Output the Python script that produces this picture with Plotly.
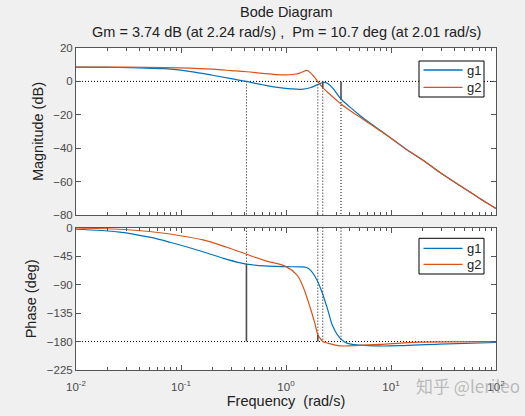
import plotly.graph_objects as go

# ---------------- data ----------------
mag_w_g1 = [0.01, 0.02, 0.04, 0.07, 0.12, 0.2, 0.3, 0.42, 0.6, 0.8, 1.1, 1.4, 1.7,
            2.0, 2.3, 2.5, 2.8, 3.34, 4.1, 5.1, 6.5, 8, 10, 15, 20, 30, 50, 70, 100]
mag_g1 = [8.5, 8.4, 8.1, 7.6, 6.0, 3.7, 1.7, 0.0, -2.0, -3.4, -4.4, -4.7, -3.8,
          -1.9, -0.6, -1.2, -4.2, -10.5, -15.5, -20.5, -25.5, -29.5, -34, -42, -47, -55, -64, -70, -76]

mag_w_g2 = [0.01, 0.03, 0.07, 0.12, 0.2, 0.3, 0.42, 0.6, 0.8, 1.0, 1.2, 1.35, 1.45, 1.57,
            1.65, 1.8, 2.01, 2.24, 2.6, 3.0, 3.34, 4.1, 5.1, 6.5, 8, 10, 15, 20, 30, 50, 70, 100]
mag_g2 = [8.5, 8.5, 8.3, 8.0, 7.3, 6.5, 5.8, 4.8, 4.1, 3.9, 4.3, 5.0, 5.8, 6.6,
          6.0, 3.8, 0.0, -3.74, -7.5, -11, -13.5, -17.5, -21.5, -26, -29.8, -34, -42, -47, -55, -64, -70, -76]

ph_w_g1 = [0.01, 0.026, 0.05, 0.0786, 0.162, 0.273, 0.42, 0.63, 1.0, 1.36, 1.57, 1.70, 1.97,
           2.22, 2.5, 2.79, 3.27, 3.81, 5.08, 7.9, 12.2, 28.9, 100]
ph_g1 = [-2.5, -7, -15, -23, -38, -50, -57.5, -60.5, -61.6, -62, -63, -66.8, -82.6,
         -103.6, -130, -156, -174.6, -182.5, -185.7, -187, -186.5, -184, -181.5]

ph_w_g2 = [0.01, 0.026, 0.05, 0.0786, 0.162, 0.273, 0.42, 0.63, 1.0, 1.27, 1.45, 1.69, 1.88,
           2.01, 2.12, 2.24, 2.5, 3.27, 5.08, 7.9, 18.5, 100]
ph_g2 = [-0.5, -2.5, -6, -10, -19.4, -31, -42, -52, -61.6, -74.7, -93, -125, -151,
         -169.3, -175, -180, -182.5, -186.8, -186, -184.5, -181, -180]

# stability margins (frequency rad/s, magnitude dB, phase deg)
pm_w = [0.42, 2.01]          # gain crossover frequencies (g1, g2)
pm_ph = [-57.5, -169.3]      # phase at gain crossover
gm_w = [3.34, 2.24]          # phase crossover frequencies (g1, g2)
gm_mag = [-10.5, -3.74]      # magnitude at phase crossover

tick_w = [0.01, 0.1, 1, 10, 100]
tick_w_text = ["10<sup>-2</sup>", "10<sup>-1</sup>", "10<sup>0</sup>", "10<sup>1</sup>", "10<sup>2</sup>"]
minor_w = [m * d for d in [0.01, 0.1, 1, 10] for m in range(2, 10)]
mag_ticks = [-80, -60, -40, -20, 0, 20]
ph_ticks = [-225, -180, -135, -90, -45, 0]

series_names = ["g1", "g2"]
title1 = "Bode Diagram"
title2 = "Gm = 3.74 dB (at 2.24 rad/s) ,  Pm = 10.7 deg (at 2.01 rad/s)"
watermark = "知乎 @lerileo"

BLUE = "#0072BD"
ORANGE = "#D95319"
COLORS = [BLUE, ORANGE]
MARG = "#4d4d4d"
FONT = "Liberation Sans, Arial, sans-serif"
TXT = "#222222"

fig = go.Figure()

# reference dotted lines
dot = dict(color="black", width=1, dash="1px,2px")
fig.add_trace(go.Scatter(x=[0.01, 100], y=[0, 0], mode="lines", line=dot,
                         showlegend=False, hoverinfo="skip", xaxis="x", yaxis="y"))
fig.add_trace(go.Scatter(x=[0.01, 100], y=[-180, -180], mode="lines", line=dot,
                         showlegend=False, hoverinfo="skip", xaxis="x2", yaxis="y2"))
for w, p in zip(pm_w, pm_ph):
    fig.add_trace(go.Scatter(x=[w, w], y=[0, -80], mode="lines", line=dot,
                             showlegend=False, hoverinfo="skip", xaxis="x", yaxis="y"))
    fig.add_trace(go.Scatter(x=[w, w], y=[0, p], mode="lines", line=dot,
                             showlegend=False, hoverinfo="skip", xaxis="x2", yaxis="y2"))
for w, m in zip(gm_w, gm_mag):
    fig.add_trace(go.Scatter(x=[w, w], y=[m, -80], mode="lines", line=dot,
                             showlegend=False, hoverinfo="skip", xaxis="x", yaxis="y"))
    fig.add_trace(go.Scatter(x=[w, w], y=[0, -180], mode="lines", line=dot,
                             showlegend=False, hoverinfo="skip", xaxis="x2", yaxis="y2"))

# curves
lw = 1.2
fig.add_trace(go.Scatter(x=mag_w_g1, y=mag_g1, mode="lines", name="g1", showlegend=False,
                         line=dict(color=BLUE, width=lw, shape="spline"), xaxis="x", yaxis="y"))
fig.add_trace(go.Scatter(x=mag_w_g2, y=mag_g2, mode="lines", name="g2", showlegend=False,
                         line=dict(color=ORANGE, width=lw, shape="spline"), xaxis="x", yaxis="y"))
fig.add_trace(go.Scatter(x=ph_w_g1, y=ph_g1, mode="lines", name="g1", showlegend=False,
                         line=dict(color=BLUE, width=lw, shape="spline"), xaxis="x2", yaxis="y2"))
fig.add_trace(go.Scatter(x=ph_w_g2, y=ph_g2, mode="lines", name="g2", showlegend=False,
                         line=dict(color=ORANGE, width=lw, shape="spline"), xaxis="x2", yaxis="y2"))

# solid margin markers
for w, m in zip(gm_w, gm_mag):
    fig.add_trace(go.Scatter(x=[w, w], y=[0, m], mode="lines", line=dict(color=MARG, width=1.6),
                             showlegend=False, hoverinfo="skip", xaxis="x", yaxis="y"))
for w, p in zip(pm_w, pm_ph):
    fig.add_trace(go.Scatter(x=[w, w], y=[-180, p], mode="lines", line=dict(color=MARG, width=1.6),
                             showlegend=False, hoverinfo="skip", xaxis="x2", yaxis="y2"))

axcol = "#555555"
tickfont = dict(family=FONT, size=11.5, color="#4a4a4a")
xcommon = dict(type="log", range=[-2, 2], showgrid=False, zeroline=False,
               showline=True, linecolor=axcol, linewidth=1, mirror="ticks",
               ticks="inside", ticklen=5, tickcolor=axcol,
               tickmode="array", tickvals=tick_w,
               minor=dict(tickmode="array", tickvals=minor_w, ticks="inside", ticklen=3,
                          tickcolor=axcol, showgrid=False),
               tickfont=tickfont)
ycommon = dict(showgrid=False, zeroline=False, showline=True, linecolor=axcol, linewidth=1,
               mirror="ticks", ticks="inside", ticklen=5, tickcolor=axcol, tickfont=tickfont)

W, H, L, R, T, B = 525, 416, 76, 29, 48, 46
pw, ph = W - L - R, H - T - B
def px(xp):
    return (xp - L) / pw
def py(yp):
    return (H - B - yp) / ph

a1x, a1y = px(286), py(12)
a2x, a2y = px(286), py(32)

annotations = [
    dict(text=title1, x=a1x, y=a1y, xref="paper", yref="paper", showarrow=False,
         xanchor="center", yanchor="middle", font=dict(family=FONT, size=14.5, color=TXT)),
    dict(text=title2, x=a2x, y=a2y, xref="paper", yref="paper", showarrow=False,
         xanchor="center", yanchor="middle", font=dict(family=FONT, size=14.5, color=TXT)),
    dict(text=watermark, x=px(414), y=py(385), xref="paper", yref="paper", showarrow=False,
         xanchor="left", yanchor="middle",
         font=dict(family="Noto Sans CJK SC", size=17, color="rgba(160,160,160,0.7)")),
]
shapes = []

# legend boxes (drawn by hand to match the compact MATLAB legend)
legend_boxes = [(419, 484, 61, 97, [70, 87.3]), (419, 484, 238.3, 274, [248.3, 264.3])]
for x0, x1, y0, y1, rows in legend_boxes:
    shapes.append(dict(type="rect", xref="paper", yref="paper", x0=px(x0), x1=px(x1), y0=py(y1), y1=py(y0),
                       line=dict(color="black", width=1), fillcolor="white", layer="above"))
    for name, col, yr in zip(series_names, COLORS, rows):
        shapes.append(dict(type="line", xref="paper", yref="paper", x0=px(423.5), x1=px(462.5),
                           y0=py(yr), y1=py(yr), line=dict(color=col, width=1.3), layer="above"))
        annotations.append(dict(text=name, x=px(465), y=py(yr), xref="paper", yref="paper",
                                showarrow=False, xanchor="left", yanchor="middle",
                                font=dict(family=FONT, size=13, color=TXT)))

fig.update_layout(
    width=W, height=H,
    margin=dict(l=L, r=R, t=T, b=B),
    paper_bgcolor="#f0f0f0", plot_bgcolor="white",
    showlegend=False,
    xaxis=dict(**xcommon, anchor="y", showticklabels=False, matches="x2"),
    xaxis2=dict(**xcommon, anchor="y2", ticktext=tick_w_text, ticklabelstandoff=6,
                title=dict(text="Frequency  (rad/s)", font=dict(family=FONT, size=14.5, color=TXT), standoff=2)),
    yaxis=dict(**ycommon, domain=[0.481, 1], range=[-80, 20], tickvals=mag_ticks,
               title=dict(text="Magnitude (dB)", font=dict(family=FONT, size=14.5, color=TXT), standoff=6)),
    yaxis2=dict(**ycommon, domain=[0, 0.442], range=[-225, 0], tickvals=ph_ticks,
                title=dict(text="Phase (deg)", font=dict(family=FONT, size=14.5, color=TXT), standoff=6)),
    annotations=annotations,
    shapes=shapes,
)

fig.write_html("out.html")
